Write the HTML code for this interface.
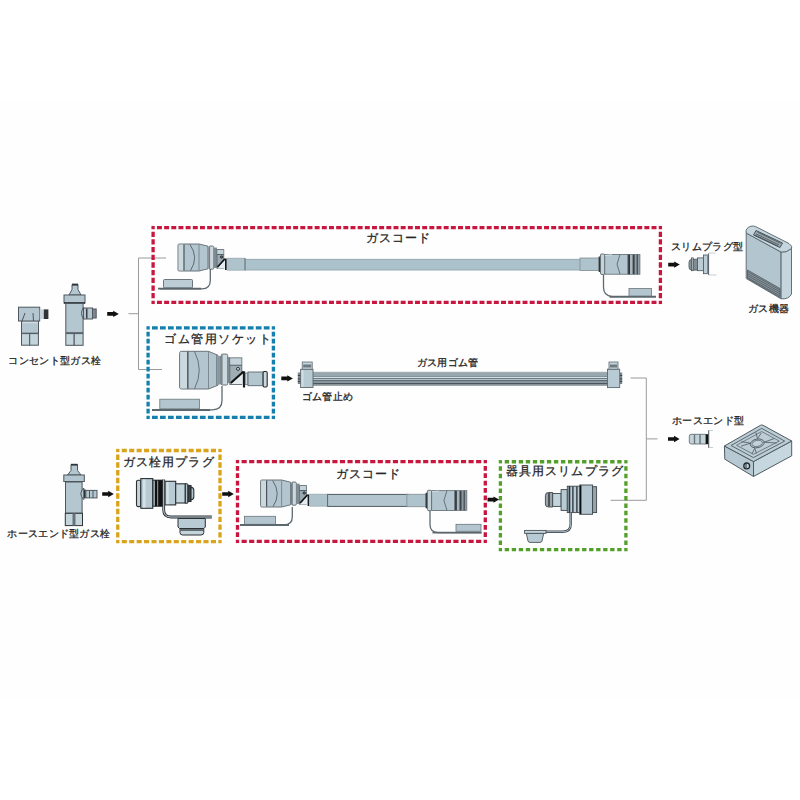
<!DOCTYPE html>
<html><head><meta charset="utf-8">
<style>
html,body{margin:0;padding:0;background:#fff;}
svg{display:block;}
text{font-family:"Liberation Sans",sans-serif;fill:#262626;stroke:#262626;stroke-width:0.3px;}
.big{font-size:12px;letter-spacing:1.1px;}
.sm{font-size:10px;letter-spacing:0.33px;}
.ln{stroke:#9a9a9a;stroke-width:1;fill:none;}
.box{fill:none;stroke-width:3.4;stroke-dasharray:5 2.2;}
.mt{fill:#b3c2ca;stroke:#5f6b72;stroke-width:1;}
.cb{fill:#a9bac4;}
.dk{fill:#3c4146;}
</style></head>
<body>
<svg width="800" height="800" viewBox="0 0 800 800">
<rect width="800" height="800" fill="#fff"/>
<rect x="0" y="100.5" width="800" height="598.5" fill="#fefefe"/>

<defs>
<g id="sock">
 <path d="M1.2 0H21L30 2.2V24.8L21 27H1.2Q0 27 0 25.8V1.2Q0 0 1.2 0Z" fill="#b3c6d0" stroke="#5d686e" stroke-width="0.9"/>
 <rect x="0.6" y="0.6" width="5" height="25.8" fill="#cbd9df"/>
 <path d="M6 0.5V26.5" stroke="#4a545a" stroke-width="1.2"/>
 <path d="M12 0.5Q21 13.5 12.5 26.5" fill="none" stroke="#5d686e" stroke-width="1"/>
 <path d="M21 0.5V26.5" stroke="#6d7a80" stroke-width="0.8"/>
 <path d="M32.2 2H34.6Q35.8 2 35.8 3.5V23.7Q35.8 25.2 34.6 25.2H32.2Q31 25.2 31 23.7V3.5Q31 2 32.2 2Z" fill="#cbd9df" stroke="#5d686e" stroke-width="0.9"/>
 <rect x="31.2" y="2.5" width="0.9" height="22.3" fill="#6d7a80"/>
 <rect x="35.8" y="3.6" width="3.2" height="20.4" fill="#7e8b92"/>
 <rect x="39" y="5.6" width="6.8" height="18.9" fill="#9aa8af" stroke="#5d686e" stroke-width="0.8"/>
 <rect x="39.4" y="6" width="6" height="4.2" fill="#c4d2d9"/>
 <path d="M39 10.5H45.8" stroke="#4f5a60" stroke-width="0.9"/>
 <path d="M39.3 24.5L47.2 14.8L47.2 24.5Z" fill="#e6edf0"/>
 <circle cx="43.6" cy="13" r="1.2" fill="#59636a" stroke="#22282c" stroke-width="0.8"/>
 <path d="M39.5 23L47 14.8" stroke="#111" stroke-width="1.7"/>
 <path d="M47.9 14.4V26" stroke="#151a1d" stroke-width="1.8"/>
 <rect x="48.8" y="14" width="18.2" height="12.4" fill="#afc3cd"/>
 <path d="M48.8 14.2H67M48.8 26.2H67" stroke="#9aa7ae" stroke-width="0.6"/>
 <path d="M67 14V26.4" stroke="#5d686e" stroke-width="1"/>
</g>
<g id="plug">
 <rect x="-19" y="4" width="19" height="12.5" fill="#afc3cd" stroke="#7f8c93" stroke-width="0.8"/>
 <rect x="-0.3" y="2.5" width="2" height="15.5" fill="#2f353a"/>
 <path d="M1.5 0.5Q1.5 0 3 0H4.5Q5.8 0 5.8 1.5V19Q5.8 20.5 4.5 20.5H3Q1.5 20.5 1.5 19Z" fill="#c6d3d9" stroke="#5d686e" stroke-width="0.9"/>
 <rect x="5.8" y="0.4" width="23.2" height="19.8" fill="#b3c6d0" stroke="#5d686e" stroke-width="0.8"/>
 <path d="M21 0.5L18 10.2L21 20" fill="none" stroke="#5d686e" stroke-width="0.9"/>
 <path d="M6 1.5L13 0.8" stroke="#d0dde3" stroke-width="1"/>
 <rect x="29" y="0.3" width="12" height="20" fill="#8f9ba2"/>
 <rect x="29" y="0.3" width="2" height="20" fill="#2f353a"/>
 <rect x="31" y="0.3" width="2" height="20" fill="#a9b6bd"/>
 <rect x="33.8" y="0.3" width="1.8" height="20" fill="#3a4146"/>
 <rect x="37.6" y="0.3" width="1.4" height="20" fill="#4a5257"/>
 <rect x="29" y="0.3" width="12" height="20" fill="none" stroke="#5d686e" stroke-width="0.6"/>
</g>
<path id="arr" d="M0 -1.8h6v-1.4l5.6 3.2l-5.6 3.2v-1.4h-6z" fill="#111"/>
</defs>


<!-- bracket lines -->
<path class="ln" d="M166 258H138.5V369.5H162M128.5 313.7H138.5"/>
<path class="ln" d="M630.5 378H646.3V500.3H610.5M646.3 438.9H657.5"/>

<!-- boxes -->
<g stroke="#c9163f" stroke-width="3.3" fill="none"><path d="M154.75 227.6H658.75" stroke-dasharray="4.946 2.222" stroke-dashoffset="4.946"/><path d="M154.75 302.4H658.75" stroke-dasharray="4.946 2.222" stroke-dashoffset="4.946"/><path d="M153.1 229.25V300.75" stroke-dasharray="5.299 2.381" stroke-dashoffset="5.299"/><path d="M660.4 229.25V300.75" stroke-dasharray="5.299 2.381" stroke-dashoffset="5.299"/><rect x="151.45" y="225.95" width="3.3" height="3.3" stroke="none" fill="#c9163f"/><rect x="658.75" y="225.95" width="3.3" height="3.3" stroke="none" fill="#c9163f"/><rect x="151.45" y="300.75" width="3.3" height="3.3" stroke="none" fill="#c9163f"/><rect x="658.75" y="300.75" width="3.3" height="3.3" stroke="none" fill="#c9163f"/></g>
<g stroke="#1580ad" stroke-width="3.3" fill="none"><path d="M149.75 327.9H271.75" stroke-dasharray="5.749 2.236" stroke-dashoffset="5.749"/><path d="M149.75 417.4H271.75" stroke-dasharray="5.749 2.236" stroke-dashoffset="5.749"/><path d="M148.1 329.55V415.75" stroke-dasharray="4.758 2.239" stroke-dashoffset="4.758"/><path d="M273.4 329.55V415.75" stroke-dasharray="4.758 2.239" stroke-dashoffset="4.758"/><rect x="146.45" y="326.25" width="3.3" height="3.3" stroke="none" fill="#1580ad"/><rect x="271.75" y="326.25" width="3.3" height="3.3" stroke="none" fill="#1580ad"/><rect x="146.45" y="415.75" width="3.3" height="3.3" stroke="none" fill="#1580ad"/><rect x="271.75" y="415.75" width="3.3" height="3.3" stroke="none" fill="#1580ad"/></g>
<g stroke="#d9a31a" stroke-width="3.3" fill="none"><path d="M119.40 450.5H218.35" stroke-dasharray="5.052 2.377" stroke-dashoffset="5.052"/><path d="M119.40 541.6H218.35" stroke-dasharray="5.052 2.377" stroke-dashoffset="5.052"/><path d="M117.75 452.15V539.95" stroke-dasharray="5.439 2.331" stroke-dashoffset="5.439"/><path d="M220.0 452.15V539.95" stroke-dasharray="5.439 2.331" stroke-dashoffset="5.439"/><rect x="116.10" y="448.85" width="3.3" height="3.3" stroke="none" fill="#d9a31a"/><rect x="218.35" y="448.85" width="3.3" height="3.3" stroke="none" fill="#d9a31a"/><rect x="116.10" y="539.95" width="3.3" height="3.3" stroke="none" fill="#d9a31a"/><rect x="218.35" y="539.95" width="3.3" height="3.3" stroke="none" fill="#d9a31a"/></g>
<g stroke="#c9163f" stroke-width="3.3" fill="none"><path d="M239.15 461.6H483.65" stroke-dasharray="5.144 2.421" stroke-dashoffset="5.144"/><path d="M239.15 541.4H483.65" stroke-dasharray="5.144 2.421" stroke-dashoffset="5.144"/><path d="M237.5 463.25V539.75" stroke-dasharray="4.726 2.658" stroke-dashoffset="4.726"/><path d="M485.3 463.25V539.75" stroke-dasharray="4.726 2.658" stroke-dashoffset="4.726"/><rect x="235.85" y="459.95" width="3.3" height="3.3" stroke="none" fill="#c9163f"/><rect x="483.65" y="459.95" width="3.3" height="3.3" stroke="none" fill="#c9163f"/><rect x="235.85" y="539.75" width="3.3" height="3.3" stroke="none" fill="#c9163f"/><rect x="483.65" y="539.75" width="3.3" height="3.3" stroke="none" fill="#c9163f"/></g>
<g stroke="#52a02a" stroke-width="3.3" fill="none"><path d="M502.05 461.75H624.25" stroke-dasharray="4.359 2.672" stroke-dashoffset="4.359"/><path d="M502.05 549.6H624.25" stroke-dasharray="4.359 2.672" stroke-dashoffset="4.359"/><path d="M500.4 463.40V547.95" stroke-dasharray="4.450 2.967" stroke-dashoffset="4.450"/><path d="M625.9 463.40V547.95" stroke-dasharray="4.450 2.967" stroke-dashoffset="4.450"/><rect x="498.75" y="460.10" width="3.3" height="3.3" stroke="none" fill="#52a02a"/><rect x="624.25" y="460.10" width="3.3" height="3.3" stroke="none" fill="#52a02a"/><rect x="498.75" y="547.95" width="3.3" height="3.3" stroke="none" fill="#52a02a"/><rect x="624.25" y="547.95" width="3.3" height="3.3" stroke="none" fill="#52a02a"/></g>

<!-- top gas cord -->
<rect x="245" y="258.8" width="336" height="11.6" fill="#abc1cc"/>
<path d="M245 259.5H581M245 269.8H581" stroke="#a2aeb5" stroke-width="1"/>
<use href="#sock" x="178" y="244"/>
<use href="#plug" x="599" y="254"/>
<path d="M210.3 269V280.5Q210.3 288.8 202 288.8H160" fill="none" stroke="#5f6a70" stroke-width="1.3"/>
<rect x="163.5" y="279.5" width="29" height="8.4" rx="1" fill="#bccdd5" stroke="#5f6a70" stroke-width="0.9"/>
<path d="M158 288.6H201" stroke="#5a656b" stroke-width="1.6"/>
<path d="M603.5 274.5V287Q603.5 296 612 296.3H656" fill="none" stroke="#5f6a70" stroke-width="1.3"/>
<rect x="629" y="288.5" width="22.5" height="7.5" fill="#b3c6d0" stroke="#6a757b" stroke-width="0.8"/>
<path d="M609.5 296.8H656" stroke="#5d686e" stroke-width="1.8"/>

<!-- bottom gas cord -->
<rect x="327" y="494.4" width="81" height="12" fill="#b3c6d0" stroke="#4f5a60" stroke-width="1"/>
<use href="#sock" x="260.6" y="480"/>
<use href="#plug" x="425.9" y="490.25"/>
<path d="M292.3 507V516.5Q292.3 525 284 525H240" fill="none" stroke="#5f6a70" stroke-width="1.3"/>
<rect x="244.5" y="516.3" width="31" height="8" fill="#b3c6d0" stroke="#6a757b" stroke-width="0.8"/>
<path d="M240 525H289" stroke="#5d686e" stroke-width="1.8"/>
<path d="M430 510.5V524.5Q430 532.6 438.5 532.6H481.5" fill="none" stroke="#5f6a70" stroke-width="1.3"/>
<rect x="456" y="524.3" width="25" height="7" fill="#b3c6d0" stroke="#6a757b" stroke-width="0.8"/>
<path d="M432.5 532.6H481.5" stroke="#5d686e" stroke-width="1.8"/>


<!-- rubber socket -->
<g stroke="#5d686e" stroke-width="0.9">
 <path d="M181.5 351.3H208.5L218 355.3V385.2L208.5 389H181.5Q179.6 389 179.6 387V353.3Q179.6 351.3 181.5 351.3Z" fill="#b3c6d0"/>
 <rect x="180.3" y="352" width="6.8" height="36.3" fill="#cbd9df" stroke="none"/>
 <path d="M187.8 351.5V388.8" stroke="#4a545a" stroke-width="1.4"/>
 <path d="M194.5 351.5Q204 370 194.5 388.8" fill="none"/>
 <path d="M208.5 351.5V388.8" stroke="#6d7a80" stroke-width="0.8"/>
 <path d="M216.5 355V385.5" stroke="#6d7a80" stroke-width="0.8"/>
 <rect x="218" y="356" width="3.2" height="28.5" fill="#8b989f" stroke="none"/>
 <path d="M222.5 354.1H226.4Q227.7 354.1 227.7 355.6V383.5Q227.7 385 226.4 385H222.5Q221.2 385 221.2 383.5V355.6Q221.2 354.1 222.5 354.1Z" fill="#cbd9df"/>
 <rect x="221.5" y="354.6" width="1" height="30" fill="#6d7a80" stroke="none"/>
 <rect x="227.7" y="357" width="2.1" height="26" fill="#7e8b92" stroke="none"/>
 <rect x="229.8" y="357.9" width="12" height="26.5" fill="#9fadb4"/>
 <rect x="230.3" y="358.4" width="11" height="6.4" fill="#c4d2d9" stroke="none"/>
 <path d="M229.8 365.3H241.8" stroke-width="1"/>
 <path d="M230.8 384L242.3 371.6V384Z" fill="#e6edf0" stroke="none"/>
 <circle cx="238" cy="368.9" r="1.5" fill="#d0dbe0" stroke="#22282c" stroke-width="0.9"/>
 <path d="M230.8 383L243.6 371.4" stroke="#111" stroke-width="2"/>
 <path d="M244 371.3V387.5" stroke="#151a1d" stroke-width="2.2"/>
 <rect x="245.2" y="373" width="2.8" height="11.5" fill="#cbd9df" stroke-width="0.7"/>
 <rect x="248" y="372" width="15.1" height="13.7" fill="#b3c6d0"/>
 <path d="M264.2 371.5H266Q267.2 371.5 267.2 373V385.5Q267.2 387 266 387H264.2Q263.1 387 263.1 385.5V373Q263.1 371.5 264.2 371.5Z" fill="#cbd9df" stroke="#22282c" stroke-width="1.1"/>
</g>
<path d="M222 386V400.5Q222 409.8 212.5 409.8H152" fill="none" stroke="#5f6a70" stroke-width="1.3"/>
<rect x="159.8" y="399.2" width="39.7" height="9.6" fill="#b3c6d0" stroke="#6a757b" stroke-width="0.8"/>
<path d="M152 410H210" stroke="#5d686e" stroke-width="1.8"/>

<!-- rubber hose -->
<g>
<rect x="313" y="371.8" width="295" height="1.1" fill="#9aa6ac"/>
<rect x="313" y="372.9" width="295" height="3" fill="#97a8b0"/>
<rect x="313" y="375.9" width="295" height="0.9" fill="#52616a"/>
<rect x="313" y="376.8" width="295" height="1.2" fill="#cfe0e8"/>
<rect x="313" y="378" width="295" height="0.9" fill="#546069"/>
<rect x="313" y="378.9" width="295" height="1.2" fill="#b5c6cd"/>
<rect x="313" y="380.1" width="295" height="0.9" fill="#4e5b63"/>
<rect x="313" y="381" width="295" height="1.8" fill="#86949b"/>
<rect x="313" y="382.8" width="295" height="1.2" fill="#4a5560"/>
<rect x="313" y="384" width="295" height="1.8" fill="#8a9398"/>
</g>
<rect x="297.8" y="372.5" width="3" height="11.5" fill="#7a878e"/>
<path d="M297.8 375.5h3M297.8 379h3M297.8 381.5h3" stroke="#2f353a" stroke-width="0.8"/>
<rect x="300.6" y="369.3" width="12.4" height="18.2" fill="#b8cad3" stroke="#5d686e" stroke-width="0.9"/>
<rect x="301.5" y="370" width="2" height="17" fill="#d3dee3"/>
<rect x="302.2" y="362" width="10" height="7.2" fill="#c4d4db" stroke="#5d686e" stroke-width="0.8"/>
<rect x="303.2" y="364.5" width="8" height="3" fill="#6d7a80"/>
<rect x="619.6" y="372.5" width="2.6" height="11.5" fill="#7a878e"/>
<path d="M619.6 375.5h2.6M619.6 379h2.6M619.6 381.5h2.6" stroke="#2f353a" stroke-width="0.8"/>
<rect x="607.5" y="369.2" width="12.2" height="18.4" fill="#b8cad3" stroke="#5d686e" stroke-width="0.9"/>
<rect x="609" y="362" width="9" height="7.2" fill="#c4d4db" stroke="#5d686e" stroke-width="0.8"/>
<rect x="610" y="364.5" width="7" height="3" fill="#6d7a80"/>

<!-- gas valve plug (orange box) -->
<g stroke="#2a3034" stroke-width="1.1">
 <rect x="136.5" y="480.2" width="4.3" height="26.4" rx="1.5" fill="#c4d4db"/>
 <rect x="140.8" y="478.6" width="12" height="29.7" fill="#b8cad3"/>
 <rect x="143" y="479.5" width="2.6" height="28" fill="#d6e1e6" stroke="none"/>
 <rect x="152.8" y="480.2" width="9.6" height="26" fill="#98a5ac"/>
 <rect x="155" y="480.2" width="2.2" height="26" fill="#111" stroke="none"/>
 <rect x="158.2" y="480.2" width="3.8" height="26" fill="#111" stroke="none"/>
 <rect x="165" y="481.3" width="10.7" height="23.6" fill="#b8cad3"/>
 <rect x="166.5" y="482" width="2.2" height="22.2" fill="#d6e1e6" stroke="none"/>
 <rect x="175.7" y="483.8" width="9.6" height="19.2" fill="#c4d4db"/>
 <path d="M185.3 484Q188 483 188 485.5V501.5Q188 504 185.3 503Z" fill="#b3c6d0"/>
 <rect x="188" y="485.5" width="3" height="16" fill="#3a4146"/>
 <path d="M191 487.2Q193.8 487.5 193.8 490V497Q193.8 499.5 191 499.8Z" fill="#b3c6d0"/>
</g>
<path d="M163.7 479.5V510Q163.7 517 171 517H211.8" fill="none" stroke="#2a3034" stroke-width="2.8"/>
<path d="M163.7 479.5V510Q163.7 517 171 517H211.8" fill="none" stroke="#c4d4db" stroke-width="1"/>
<g stroke="#2a3034" stroke-width="1">
 <path d="M178 518.5H205.3V527L203.8 528.5H179.5L178 527Z" fill="#b8cad3"/>
 <path d="M180 528.5H203.8V532.5Q203.8 535 201 535H182.5Q180 535 180 532.5Z" fill="#c4d4db"/>
 <path d="M180.5 530H203.2" stroke="#3a4146" stroke-width="1.4"/>
</g>

<!-- slim plug (green box) -->
<g stroke="#3e474c" stroke-width="0.9">
 <path d="M548.5 492.5H552.7V507H548.5Q545.4 507 545.4 504V495.5Q545.4 492.5 548.5 492.5Z" fill="#9aa6ac"/>
 <rect x="548" y="493" width="2" height="13.5" fill="#4a545a" stroke="none"/>
 <rect x="552.7" y="493.5" width="8.4" height="12.9" fill="#c4d4db"/>
 <rect x="561.1" y="489.6" width="6.2" height="20.8" fill="#b8cad3"/>
 <rect x="567.3" y="486.2" width="12.4" height="26.4" fill="#b8cad3"/>
 <rect x="568.6" y="486.2" width="1.7" height="26.4" fill="#2f353a" stroke="none"/>
 <rect x="572" y="486.2" width="1.7" height="26.4" fill="#4a545a" stroke="none"/>
 <rect x="576" y="486.2" width="1.7" height="26.4" fill="#4a545a" stroke="none"/>
 <rect x="579.7" y="485" width="12.9" height="29.3" fill="#b3c6d0"/>
 <rect x="580" y="485.3" width="1.4" height="28.7" fill="#111" stroke="none"/>
 <rect x="592.6" y="486.7" width="4" height="25.9" fill="#98a4aa"/>
</g>
<path d="M570.7 512.6V524Q570.7 531.7 563 531.7H546" fill="none" stroke="#3e474c" stroke-width="2.4"/>
<path d="M570.7 512.6V524Q570.7 531.7 563 531.7H546" fill="none" stroke="#b3c6d0" stroke-width="0.9"/>
<g stroke="#4a545a" stroke-width="0.9">
 <rect x="524.6" y="530.4" width="21.4" height="3" fill="#c4d4db"/>
 <path d="M526.3 533.4H543.7L542 541Q541.6 542.4 540 542.4H530Q528.4 542.4 528 541Z" fill="#b8cad3"/>
</g>

<!-- small slim plug -->
<g stroke="#4a545a" stroke-width="0.8">
 <path d="M691.4 259.5V270Q689 270 689 267V262.5Q689 259.5 691.4 259.5Z" fill="#8e9aa0"/>
 <rect x="691.4" y="257.9" width="1.8" height="12.8" fill="#d0dde3"/>
 <rect x="693.2" y="259.2" width="4.3" height="10.9" fill="#7f8c93"/>
 <rect x="697.5" y="257.9" width="5.9" height="12.8" fill="#bccdd5"/>
 <rect x="703.4" y="255" width="5" height="18.7" fill="#bccdd5"/>
 <rect x="707" y="255.4" width="1.4" height="18" fill="#7f8c93" stroke="none"/>
</g>
<path d="M708.6 253.4V275" stroke="#5a6166" stroke-width="0.9" fill="none"/><path d="M709 253H715.5M709 275H716.5" stroke="#b3b9bd" stroke-width="0.7" fill="none"/>

<!-- hose end plug -->
<g stroke="#59656b" stroke-width="0.8">
 <path d="M691.2 434.3H706V444H691.2Q689.3 444 689.3 442V436.3Q689.3 434.3 691.2 434.3Z" fill="#c2d3da"/>
 <rect x="693.8" y="434.3" width="1.4" height="9.7" fill="#6b777e" stroke="none"/>
 <rect x="699.3" y="434.3" width="1.5" height="9.7" fill="#6b777e" stroke="none"/>
 <rect x="705.8" y="434.2" width="2.5" height="10" fill="#111" stroke="none"/>
</g>
<path d="M708.7 430.3V447.8" stroke="#4a5055" stroke-width="1"/>
<path d="M709.2 430.5H713M709.2 447.5H713" stroke="#b0b6ba" stroke-width="0.7"/>

<!-- gas appliance (fan heater) -->
<g stroke="#56626a" stroke-width="0.9" stroke-linejoin="round">
 <path d="M746.2 233L781.1 252.1V298.8L746.2 278.5Z" fill="#b3c6d0"/>
 <path d="M781.1 252.1Q786 253 791.5 248.5V294Q789 299.5 781.1 298.8Z" fill="#c4d5dd"/>
 <path d="M746.2 233Q745 228 751 226.2Q754 225.5 756 226.8L789 243.5Q793 246.5 791.5 248.5Q786 253 781.1 252.1Z" fill="#c5d6de"/>
 <path d="M756 230.5L782.5 243L780 247.5L753.5 235Z" fill="#9eabb2" stroke="#3c464c"/>
 <path d="M757.5 232.2L780.5 243.3M756 233.8L779 244.9M755 235L778 246" stroke="#3c464c" stroke-width="0.7"/>
 <path d="M747.5 270L780 288.5V297.5L747.5 278.5Z" fill="#8c989f"/>
 <path d="M747.5 271.5L780 290M747.5 273.5L780 292M747.5 275.5L780 294M747.5 277.5L780 296" stroke="#4d575d" stroke-width="0.8"/>
</g>

<!-- gas stove -->
<g stroke="#4f5b62" stroke-width="1" stroke-linejoin="round" fill="none">
 <path d="M724.4 446L753.5 461.5V476.5L724.8 459.2Z" fill="#b6c9d2"/>
 <path d="M753.5 461.5L791.7 441V455.8L753.5 476.5Z" fill="#c6d7df"/>
 <path d="M724.4 446L760.5 425.3Q761.8 424.6 763 425.3L791.7 441L753.5 461.5Z" fill="#bccdd5"/>
 <path d="M731 445.5L761.7 428.4L784.7 441.1L753.4 457.6Z" stroke-width="0.9"/>
 <path d="M736.5 445.3L761.7 431.5L779.3 441.1L753.5 454.3Z" stroke-width="0.7"/>
 <ellipse cx="757.2" cy="443.4" rx="7" ry="4.3" transform="rotate(-12 757.2 443.4)" stroke-width="0.9"/>
 <ellipse cx="757.2" cy="443.4" rx="5.2" ry="3" transform="rotate(-12 757.2 443.4)" stroke-width="0.7" fill="#c3d3db"/>
 <path d="M757.5 438.6L755.8 432.3M757.5 438.6L761.5 432.8M754.8 448.3L751.8 454M754.8 448.3L756.5 453.5M750.3 443.2L741 446.2M750.3 443.2L741.5 441.6M764.2 442.2L774 438.6M764.2 442.2L776.6 443" stroke-width="0.8"/>
 <circle cx="746.7" cy="465.9" r="2.9" fill="#c6d7df" stroke="#22282c" stroke-width="1.3"/>
 <path d="M746 464V468" stroke="#22282c" stroke-width="1"/>
</g>

<!-- arrows -->
<use href="#arr" x="107.2" y="313.9"/>
<use href="#arr" x="668.2" y="264.6"/>
<use href="#arr" x="281.3" y="378.4"/>
<use href="#arr" x="668" y="439"/>
<use href="#arr" x="102.2" y="494"/>
<use href="#arr" x="222.2" y="494"/>
<use href="#arr" x="487.5" y="499.6"/>



<!-- valves -->
<g stroke="#4e575d" stroke-width="1" fill="#b4c6cf">
<!-- left concent valve -->
<rect x="21.5" y="320" width="17" height="13.2"/>
<rect x="18.5" y="307.2" width="21.2" height="13.8"/>
<path d="M21.5 322.5 L25 313 M33 313 L33.5 321" fill="none"/>
<rect x="22" y="322" width="16" height="1.2" fill="#d3dee3" stroke="none"/>
<rect x="21.5" y="333.6" width="8.2" height="11.6" fill="#c4d4db"/>
<rect x="29.7" y="333.6" width="8.7" height="11.6" fill="#c4d4db"/>
<rect x="39.8" y="309.4" width="4" height="9.6" stroke="none" fill="#c7d3d9"/>
<rect x="43.8" y="309.4" width="4.6" height="9.6" fill="#2e3438" stroke="none"/>
<!-- right concent valve -->
<path d="M72 284.5h6v5l3 5.5h-12l3-5.5z"/>
<rect x="72" y="283.6" width="6" height="2" fill="#2e3438" stroke="none"/>
<rect x="64" y="295" width="21" height="8"/>
<rect x="64" y="302.2" width="21" height="1.6" fill="#2e3438" stroke="none"/>
<rect x="65.8" y="303.5" width="17.3" height="29.2"/>
<path d="M83.5 307.5 q-4 5.5 0 11.5z"/>
<rect x="83.5" y="308" width="9" height="11"/>
<rect x="86" y="308.5" width="1.5" height="10" fill="#3a4045" stroke="none"/>
<rect x="92.5" y="309" width="3.7" height="9" fill="#7d878d"/>
<rect x="65.8" y="333.6" width="8.4" height="11.7" fill="#c4d4db"/>
<rect x="74.2" y="333.6" width="8.9" height="11.7" fill="#c4d4db"/>
<!-- hose end valve -->
<path d="M71 464.5h6.5v6l3.5 4.5h-13.5l3.5-4.5z"/>
<rect x="71" y="463.8" width="6.5" height="1.8" fill="#2e3438" stroke="none"/>
<rect x="63.8" y="475" width="20.5" height="6.5"/>
<rect x="65.5" y="482" width="16.6" height="31.2"/>
<path d="M83.8 488 q-6 5.8 0 11.6z"/>
<rect x="83.8" y="489.6" width="2" height="8.6" fill="#2e3438" stroke="none"/>
<rect x="85.8" y="490.4" width="11.2" height="7.5"/>
<path d="M89.5 490.4v7.5M93 490.4v7.5" fill="none"/>
<rect x="65.3" y="513.3" width="17.2" height="12.3" fill="#c4d4db" stroke="#2e3438"/>
<rect x="72.5" y="513.5" width="3" height="12" fill="#66737a" stroke="none"/>
</g>

<!-- text -->
<text class="big" x="365.8" y="242.2">ガスコード</text>
<text class="sm" x="670.9" y="249.5">スリムプラグ型</text>
<text class="sm" x="748" y="311.8">ガス機器</text>
<text class="sm" x="8.4" y="363.5">コンセント型ガス栓</text>
<text class="big" x="164.4" y="343.2" style="letter-spacing:1.45px">ゴム管用ソケット</text>
<text class="sm" x="416.8" y="365.8">ガス用ゴム管</text>
<text class="sm" x="301.7" y="400.2">ゴム管止め</text>
<text class="sm" x="671.9" y="424.4">ホースエンド型</text>
<text class="sm" x="7.2" y="537.2">ホースエンド型ガス栓</text>
<text class="big" x="123" y="465.5">ガス栓用プラグ</text>
<text class="big" x="335.5" y="478.3">ガスコード</text>
<text class="big" x="506" y="475.4">器具用スリムプラグ</text>
</svg>
</body></html>
